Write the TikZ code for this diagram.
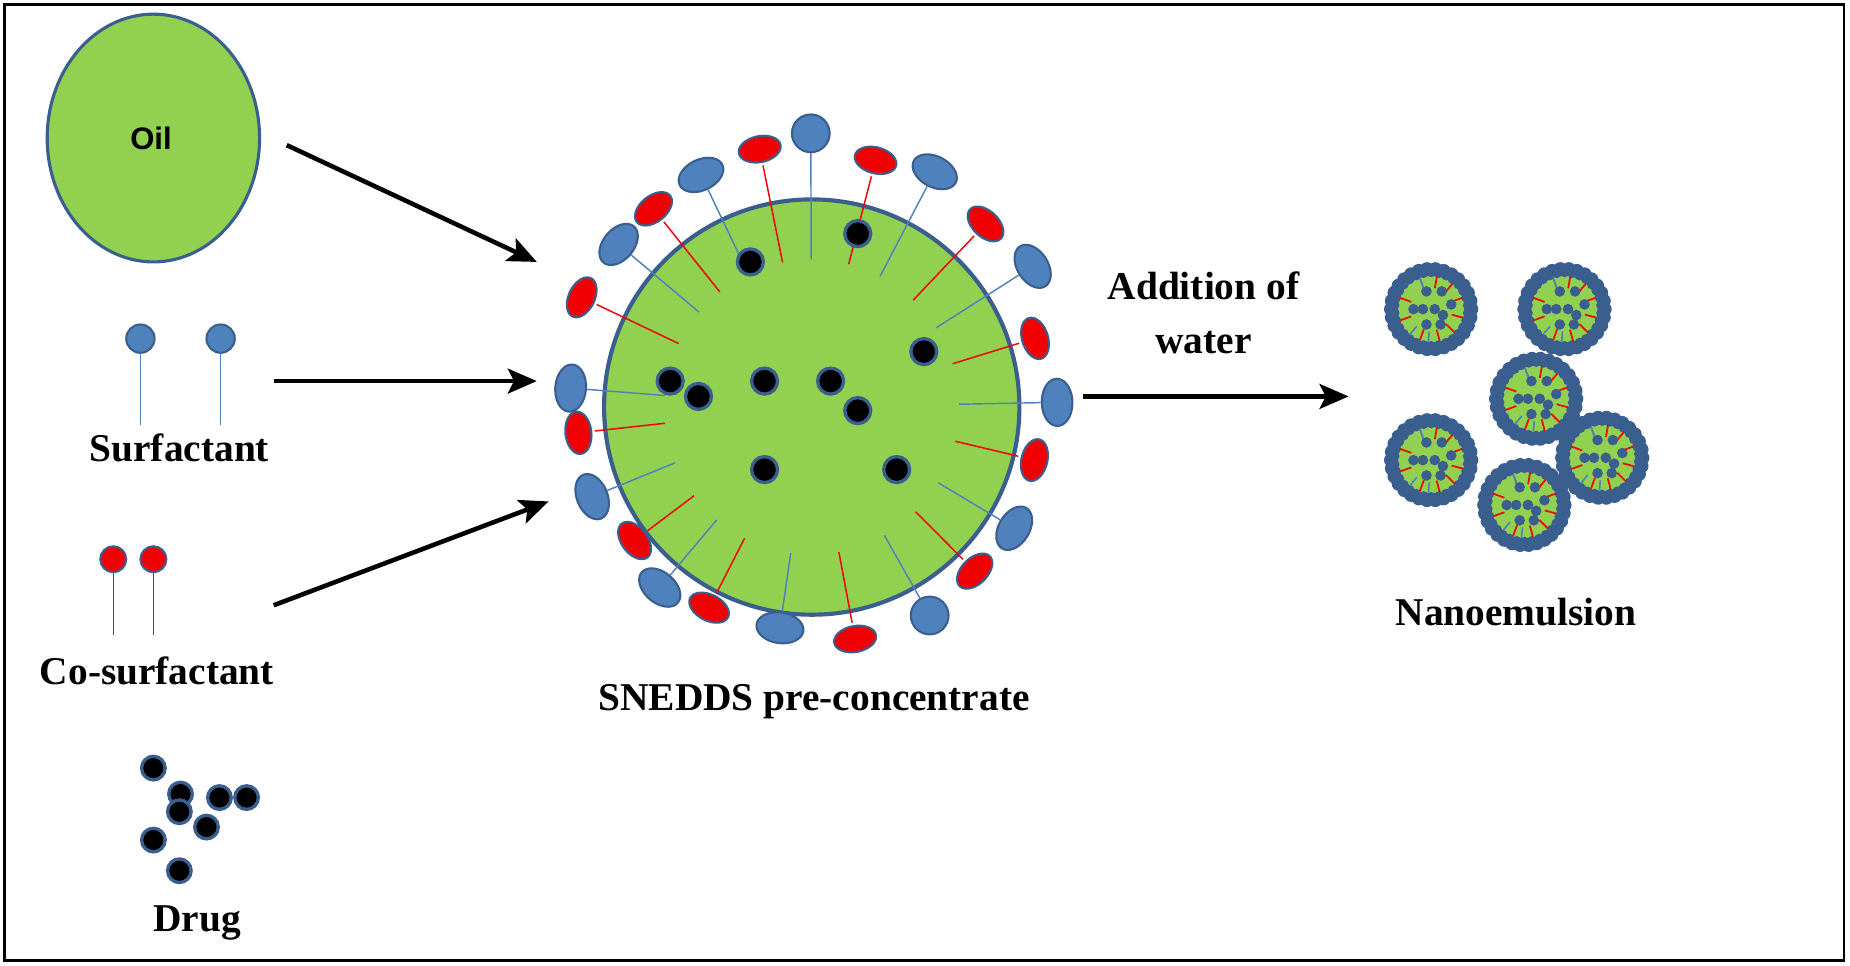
\documentclass[tikz,border=0pt]{standalone}
\usepackage{fontspec}
\setmainfont{Liberation Serif}
\newfontfamily\oilfont{Liberation Sans}
\usetikzlibrary{shapes.geometric,arrows.meta}
\definecolor{gr}{HTML}{92D050}
\definecolor{bl}{HTML}{4F81BD}
\definecolor{bd}{HTML}{3A5F8F}
\definecolor{rd}{HTML}{F00000}
\begin{document}
\begin{tikzpicture}[x=0.02cm,y=-0.02cm,
 lbl/.style={font=\fontsize{19}{22}\selectfont\bfseries},
 arr/.style={line width=2.2pt,-{Stealth[length=14pt,width=12pt,inset=3pt]}},
 drugdot/.style={circle,fill=black,draw=bd,line width=1.6pt,minimum size=20*0.02cm,inner sep=0pt},
 headb/.style={fill=bl,draw=bd,line width=1pt},
 headr/.style={fill=rd,draw=bd,line width=1pt},
 nano/.pic={
  \fill[gr] (0,0) circle (28);
  \foreach \a in {0,12,...,348}{\fill[bd] (\a:34) circle (6);}
  \foreach \a in {6,18,...,354}{\fill[bd] (\a:31) circle (4);}
  \foreach \a in {-80,-50,-20,15,45,75,110,160,200}{\draw[rd,line width=0.8pt] (\a:18) -- (\a:28);}
  \foreach \a in {-110,130,250,95}{\draw[bl,line width=0.8pt] (\a:19) -- (\a:28);}
  \foreach \p in {(-4,-15),(9,-15),(-15,0),(-7,0),(3,0),(10,5),(-4,13),(8,13),(17,-4)}{\fill[bd] \p circle (4.5);}
 }]
\useasboundingbox (0,0) rectangle (1568,818);
\draw[line width=1.2pt] (4,4) rectangle (1563,814);
% oil
\node[ellipse,draw=bd,fill=gr,line width=1.5pt,minimum width=180*0.02cm,minimum height=210*0.02cm] (oil) at (130,117) {};
\node[font=\oilfont\fontsize{15}{18}\selectfont\bfseries] at (128,117) {Oil};
% surfactant
\foreach \x/\n in {119/s1,187/s2}{
 \draw[bl,line width=0.6pt] (\x,299) -- (\x,360);
 \node[circle,headb,minimum size=24*0.02cm,inner sep=0pt] (\n) at (\x,287) {};}
\node[lbl] (surf) at (152,380) {Surfactant};
% co-surfactant
\foreach \x/\n in {96/c1,130/c2}{
 \draw[rd,line width=0.6pt] (\x,485) -- (\x,538);
 \node[circle,headr,minimum size=22*0.02cm,inner sep=0pt] (\n) at (\x,474) {};}
\node[lbl] (cosurf) at (133,569) {Co-surfactant};
% drug
\foreach \p in {(130,651),(153,673),(186,676),(209,676),(152,688),(130,712),(175,701),(152,738)}{\node[drugdot] at \p {};}
\node[lbl] (drug) at (167,782) {Drug};
% big circle
\coordinate (C) at (688,345);
\node[circle,draw=bd,fill=gr,line width=2pt,minimum size=352*0.02cm,inner sep=0pt] (big) at (C) {};
\foreach \a/\r/\c in {-115.5/218/b,-101.4/223/r,-90.2/232/c,-75.5/216/r,-62.4/225/b,-46.5/214/r,-32.5/222/b,-17.1/198/r,-1.1/208/b,13.4/194/r,30.9/200/b,45.2/196/r,60.5/203/c,79.4/200/r,98.2/189/b,117.1/191/r,130.1/200/b,143/188/r,157.8/201/b,173.7/199/r,-175.5/205/b,-154.5/216/r,-139.9/214/b,-128.6/215/r}{
 \pgfmathsetmacro{\rr}{\r-14}
 \pgfmathsetmacro{\cx}{688+\r*cos(\a)}
 \pgfmathsetmacro{\cy}{345+\r*sin(\a)}
 \if\c r
  \draw[rd,line width=0.7pt] ([shift={(\a:\rr)}]C) -- ([shift={(\a:125)}]C);
  \draw[headr] plot[domain=0:360,samples=48,smooth cycle] ({\cx+11*cos(\x)*cos(\a)-18*sin(\x)*sin(\a)},{\cy+11*cos(\x)*sin(\a)+18*sin(\x)*cos(\a)});
 \else
  \draw[bl,line width=0.7pt] ([shift={(\a:\rr)}]C) -- ([shift={(\a:125)}]C);
  \if\c b
   \draw[headb] plot[domain=0:360,samples=48,smooth cycle] ({\cx+13*cos(\x)*cos(\a)-20*sin(\x)*sin(\a)},{\cy+13*cos(\x)*sin(\a)+20*sin(\x)*cos(\a)});
  \else
   \draw[headb] (\cx,\cy) circle (16);
  \fi
 \fi
}
\foreach \p in {(636,222),(727,198),(568,323),(592,336),(648,323),(704,323),(727,348),(783,298),(648,398),(760,398)}{\node[drugdot,minimum size=22*0.02cm] at \p {};}
\node[lbl] (sn) at (690,595) {SNEDDS pre-concentrate};
% arrows
\coordinate (a1e) at (455,222); \coordinate (a2e) at (455,323); \coordinate (a3e) at (465,425); \coordinate (a4e) at (1143,336);
\draw[arr] (243,123) -- (a1e);
\draw[arr] (232,323) -- (a2e);
\draw[arr] (232,513) -- (a3e);
\draw[arr] (918,336) -- (a4e);
\node[lbl,align=center] (add) at (1020,265) {Addition of\\[4pt]water};
% nano
\foreach \p in {(1213,262),(1326,262),(1302,338),(1213,390),(1358,388),(1292,428)}{\pic at \p {nano};}
\node[lbl] (ne) at (1285,519) {Nanoemulsion};
\end{tikzpicture}
\end{document}
